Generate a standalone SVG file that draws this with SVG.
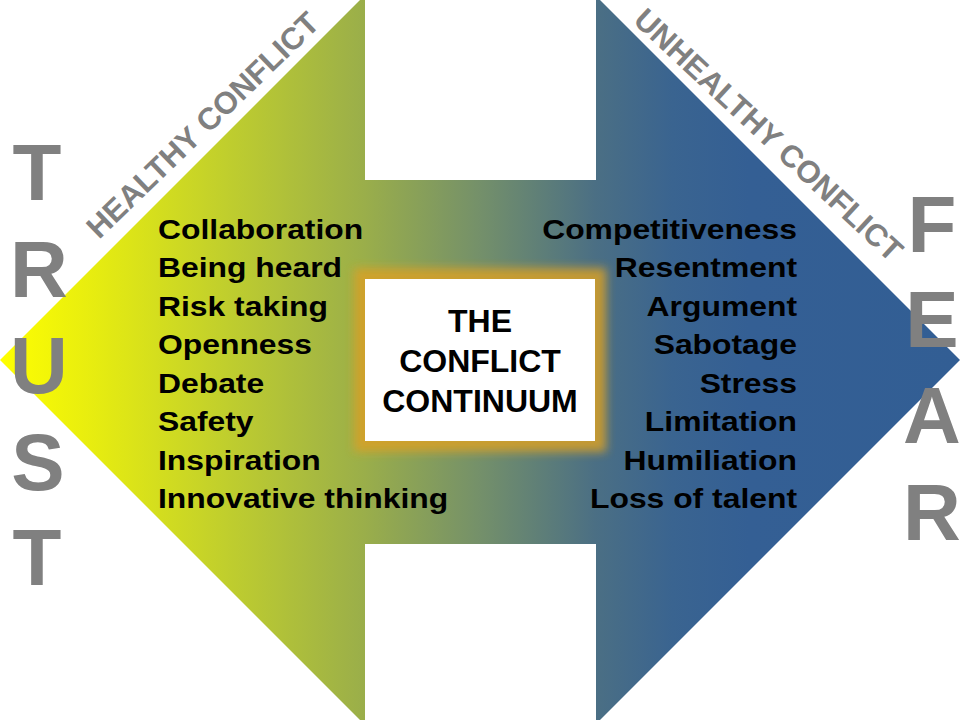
<svg xmlns="http://www.w3.org/2000/svg" width="960" height="720" viewBox="0 0 960 720">
  <defs>
    <linearGradient id="grad" gradientUnits="userSpaceOnUse" x1="0" y1="0" x2="960" y2="0">
      <stop offset="0" stop-color="#ffff00"/>
      <stop offset="0.1" stop-color="#e6ec10"/>
      <stop offset="0.25" stop-color="#bccb30"/>
      <stop offset="0.38" stop-color="#9aae4a"/>
      <stop offset="0.5" stop-color="#74906a"/>
      <stop offset="0.62" stop-color="#4b6f84"/>
      <stop offset="0.7" stop-color="#3a6490"/>
      <stop offset="0.78" stop-color="#345f94"/>
      <stop offset="1" stop-color="#325e94"/>
    </linearGradient>
    <filter id="glow" x="-20%" y="-20%" width="140%" height="140%">
      <feGaussianBlur stdDeviation="5"/>
    </filter>
    <style>
      .side { font-family: "Liberation Sans", Arial, sans-serif; font-weight: bold; fill: #808080; }
      .big { font-size: 80px; text-anchor: middle; }
      .diag { font-size: 31px; }
      .item { font-family: "Liberation Sans", Arial, sans-serif; font-weight: bold; font-size: 27px; fill: #000000; }
      .title { font-family: "Liberation Sans", Arial, sans-serif; font-weight: bold; font-size: 32px; fill: #000000; text-anchor: middle; }
    </style>
  </defs>

  <rect width="960" height="720" fill="#ffffff"/>

  <g id="arrow">
    <path d="M0,360 L365,-5 L365,180 L596,180 L596,-4 L960,360 L596,724 L596,544 L365,544 L365,725 Z" fill="url(#grad)"/>
  </g>

  <g id="trust" class="side big">
    <text x="37" y="200">T</text>
    <text x="39" y="297">R</text>
    <text x="39" y="393">U</text>
    <text x="38" y="490">S</text>
    <text x="37" y="585">T</text>
  </g>

  <g id="fear" class="side big">
    <text x="932" y="252">F</text>
    <text x="932" y="347">E</text>
    <text x="932" y="443">A</text>
    <text x="932" y="540">R</text>
  </g>

  <g id="healthy-label">
    <text class="side diag" x="99" y="240" transform="rotate(-44 99 240)">HEALTHY CONFLICT</text>
  </g>

  <g id="unhealthy-label">
    <text class="side diag" x="632" y="22" transform="rotate(43 632 22)">UNHEALTHY CONFLICT</text>
  </g>

  <g id="healthy-list" transform="translate(158,0) scale(1.18,1)">
    <text class="item" x="0" y="239">Collaboration</text>
    <text class="item" x="0" y="277">Being heard</text>
    <text class="item" x="0" y="316">Risk taking</text>
    <text class="item" x="0" y="354">Openness</text>
    <text class="item" x="0" y="393">Debate</text>
    <text class="item" x="0" y="431">Safety</text>
    <text class="item" x="0" y="470">Inspiration</text>
    <text class="item" x="0" y="508">Innovative thinking</text>
  </g>

  <g id="unhealthy-list" transform="translate(797,0) scale(1.18,1)" text-anchor="end">
    <text class="item" x="0" y="239">Competitiveness</text>
    <text class="item" x="0" y="277">Resentment</text>
    <text class="item" x="0" y="316">Argument</text>
    <text class="item" x="0" y="354">Sabotage</text>
    <text class="item" x="0" y="393">Stress</text>
    <text class="item" x="0" y="431">Limitation</text>
    <text class="item" x="0" y="470">Humiliation</text>
    <text class="item" x="0" y="508">Loss of talent</text>
  </g>

  <g id="center-box">
    <rect x="354" y="268" width="252" height="184" fill="#d8a028" opacity="0.85" filter="url(#glow)"/>
    <rect x="365" y="279" width="230" height="162" fill="#ffffff"/>
    <text class="title" x="480" y="332">THE</text>
    <text class="title" x="480" y="372">CONFLICT</text>
    <text class="title" x="480" y="412">CONTINUUM</text>
  </g>
</svg>
